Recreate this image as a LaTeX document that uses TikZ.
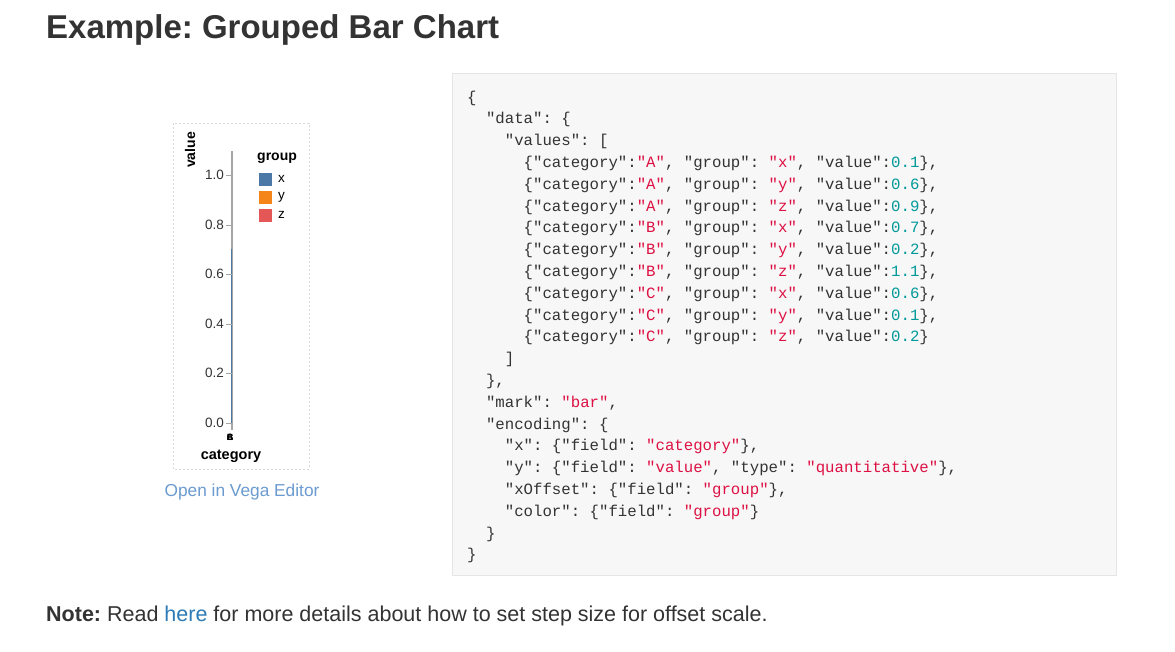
\documentclass[tikz,border=0pt]{standalone}
\usepackage{fontspec}
\setmainfont{Liberation Sans}
\newfontfamily\codefont{Liberation Mono}
\frenchspacing
\definecolor{txt}{HTML}{333333}
\definecolor{strc}{HTML}{DD1144}
\definecolor{numc}{HTML}{009999}
\definecolor{linkc}{HTML}{2C7BB6}
\definecolor{vlink}{HTML}{6B9BD0}
\definecolor{bx}{HTML}{4C78A8}
\definecolor{by}{HTML}{F58518}
\definecolor{bz}{HTML}{E45756}
\newcommand{\qs}[1]{\textcolor{strc}{"#1"}}
\newcommand{\qn}[1]{\textcolor{numc}{#1}}
\begin{document}
\begin{tikzpicture}[x=1pt,y=-1pt,
  codeline/.style={anchor=base west,inner sep=0pt,font=\codefont\fontsize{15.7}{18}\selectfont,text=txt},
  ticklab/.style={anchor=east,inner sep=0pt,font=\fontsize{13.5}{15}\selectfont,text=txt},
  leglab/.style={anchor=west,inner sep=0pt,font=\fontsize{13.5}{15}\selectfont,text=black}]
\useasboundingbox (0,0) rectangle (1175,651);
\fill[white] (0,0) rectangle (1175,651);
\node[anchor=base west,inner sep=0pt,font=\bfseries\fontsize{33}{36}\selectfont,text=txt] (title) at (46,38) {Example: Grouped Bar Chart};
% chart
\draw[black!15,dashed,dash pattern=on 2pt off 2pt] (173,123) rectangle (309,469);
\draw[gray!70,line width=1.5pt] (232,151) -- (232,430);
\draw[bx,line width=1.2pt] (231.5,249) -- (231.5,423);
\foreach \v/\y in {0.0/423,0.2/373,0.4/324,0.6/274,0.8/225,1.0/175}{
  \draw[gray!70] (226,\y) -- (232,\y);
  \node[ticklab] at (224,\y) {\v};}
\node[rotate=90,inner sep=0pt,font=\bfseries\fontsize{14}{15}\selectfont] (vl) at (190,150) {value};
\node[inner sep=0pt,font=\bfseries\fontsize{9}{10}\selectfont] (abc) at (230,437) {\makebox[0pt]{A}\makebox[0pt]{B}\makebox[0pt]{C}\hspace{5pt}};
\node[inner sep=0pt,font=\bfseries\fontsize{14.5}{16}\selectfont] (cat) at (231,456) {category};
\node[anchor=west,inner sep=0pt,font=\bfseries\fontsize{14}{15}\selectfont] (grp) at (257,158) {group};
\fill[bx] (259,173) rectangle (272,186);
\fill[by] (259,191) rectangle (272,204);
\fill[bz] (259,209) rectangle (272,222);
\node[leglab] at (278,179) {x};
\node[leglab] at (278,197) {y};
\node[leglab] at (278,215) {z};
\node[inner sep=0pt,font=\fontsize{17.3}{19}\selectfont,text=vlink] (vega) at (242,492) {Open in Vega Editor};
% code box
\draw[fill=black!3,draw=black!10] (452,73) rectangle (1116,575);
\def\cw{9.42}
\foreach \ind/\txt [count=\i from 0] in {
0/{\{},
2/{"data": \{},
4/{"values": [},
6/{\{"category":\qs{A}, "group": \qs{x}, "value":\qn{0.1}\},},
6/{\{"category":\qs{A}, "group": \qs{y}, "value":\qn{0.6}\},},
6/{\{"category":\qs{A}, "group": \qs{z}, "value":\qn{0.9}\},},
6/{\{"category":\qs{B}, "group": \qs{x}, "value":\qn{0.7}\},},
6/{\{"category":\qs{B}, "group": \qs{y}, "value":\qn{0.2}\},},
6/{\{"category":\qs{B}, "group": \qs{z}, "value":\qn{1.1}\},},
6/{\{"category":\qs{C}, "group": \qs{x}, "value":\qn{0.6}\},},
6/{\{"category":\qs{C}, "group": \qs{y}, "value":\qn{0.1}\},},
6/{\{"category":\qs{C}, "group": \qs{z}, "value":\qn{0.2}\}},
4/{]},
2/{\},},
2/{"mark": \qs{bar},},
2/{"encoding": \{},
4/{"x": \{"field": \qs{category}\},},
4/{"y": \{"field": \qs{value}, "type": \qs{quantitative}\},},
4/{"xOffset": \{"field": \qs{group}\},},
4/{"color": \{"field": \qs{group}\}},
2/{\}},
0/{\}}}{
  \node[codeline] (c\i) at ({467+\ind*\cw},{102+\i*21.8}) {\txt};}
\node[anchor=base west,inner sep=0pt,font=\fontsize{21.5}{24}\selectfont,text=txt] (note) at (46,621) {\textbf{Note:} Read \textcolor{linkc}{here} for more details about how to set step size for offset scale.};
\end{tikzpicture}
\end{document}
